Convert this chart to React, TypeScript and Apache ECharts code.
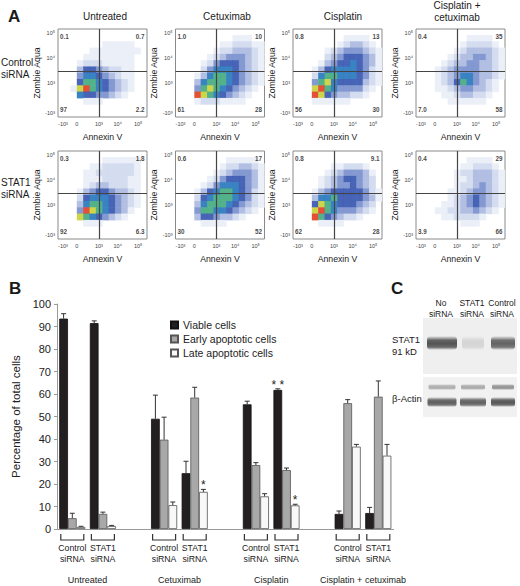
import React, { useEffect, useRef } from 'react';
import * as echarts from 'echarts';

const FONT = '"Liberation Sans", Arial, Helvetica, sans-serif';

// ---------- Panel A : flow cytometry ----------
const flowTreatments = ['Untreated', 'Cetuximab', 'Cisplatin', 'Cisplatin +\ncetuximab'];
const flowRowLabels = ['Control\nsiRNA', 'STAT1\nsiRNA'];
// quadrant percentages [top-left, top-right, bottom-left, bottom-right]
const quadControl = [
  ['0.1', '0.7', '97', '2.2'],
  ['1.0', '10', '61', '28'],
  ['0.8', '13', '56', '30'],
  ['0.4', '35', '7.0', '58'],
];
const quadStat1 = [
  ['0.3', '1.8', '92', '6.3'],
  ['0.6', '17', '30', '52'],
  ['0.8', '9.1', '62', '28'],
  ['0.4', '29', '3.9', '66'],
];
const xTickPos = [5.6, 21, 46, 67, 90];
const xTickText = ['-10³', '0', '10³', '10⁴', '10⁵'];
const yTickPos = [4, 39, 67, 96];
const yTickText = ['-10³', '10³', '10⁴', '10⁵'];
const gateX = 46;
const gateY = 52;

// density grids (14 x 14, top row first), level 0..9
const dUntreatedCtrl = [
  '00000000000000',
  '00000000000000',
  '00000001111100',
  '00000111111110',
  '00001111111100',
  '00012221111100',
  '00035543221100',
  '00046654321100',
  '00057765432100',
  '00189765432100',
  '00065544321000',
  '00001110000000',
  '00000000000000',
  '00000000000000',
];
const dCetuximabCtrl = [
  '00000000000000',
  '00000000011100',
  '00000001122211',
  '00000012233321',
  '00000123444321',
  '00001245554321',
  '00002466654321',
  '00013677654321',
  '00036777654321',
  '00047876543210',
  '00098765432100',
  '00012221111000',
  '00000000000000',
  '00000000000000',
];
const dCisplatinCtrl = [
  '00000000000000',
  '00000000111100',
  '00000001233210',
  '00000123444321',
  '00000234555431',
  '00001345565431',
  '00013566665421',
  '00026776665421',
  '00047865555321',
  '00089764444210',
  '00098543322100',
  '00011111100000',
  '00000000000000',
  '00000000000000',
];
const dComboCtrl = [
  '00000000000000',
  '00000000111100',
  '00000001222210',
  '00000012333321',
  '00000123344321',
  '00001233443321',
  '00012344443321',
  '00012346643321',
  '00012357643210',
  '00011234433210',
  '00001123322100',
  '00000111111000',
  '00000000000000',
  '00000000000000',
];
const dUntreatedStat1 = [
  '00000000000000',
  '00000001111110',
  '00000112222210',
  '00001122222210',
  '00001112222110',
  '00001233222110',
  '00013455433210',
  '00025666543210',
  '00036776543210',
  '00049876543100',
  '00087654321000',
  '00001110000000',
  '00000000000000',
  '00000000000000',
];
const dCetuximabStat1 = [
  '00000000000000',
  '00000000111110',
  '00000001223321',
  '00000012344431',
  '00000124555431',
  '00001246665431',
  '00013567765421',
  '00025677765421',
  '00036777654321',
  '00047766543210',
  '00035543321000',
  '00001111000000',
  '00000000000000',
  '00000000000000',
];
const dCisplatinStat1 = [
  '00000000000000',
  '00000000000000',
  '00000011222100',
  '00000123444310',
  '00001234554320',
  '00001234454320',
  '00013455555421',
  '00036675555431',
  '00058765554320',
  '00089764443210',
  '00097543221000',
  '00001111000000',
  '00000000000000',
  '00000000000000',
];
const dComboStat1 = [
  '00000000000000',
  '00000000111100',
  '00000001122210',
  '00000012233321',
  '00000011233321',
  '00000012234321',
  '00000112344321',
  '00000123454321',
  '00001123454321',
  '00011223343210',
  '00001122221000',
  '00000001110000',
  '00000000000000',
  '00000000000000',
];
const densityPalette = ['#eaeef8', '#d2daef', '#aebce2', '#7d93cf', '#3e5cb2', '#2f7cc0', '#4aae84', '#cbd340', '#e2462c'];

// ---------- Panel B : bar chart ----------
const treatments = ['Untreated', 'Cetuximab', 'Cisplatin', 'Cisplatin + cetuximab'];
const sirnaLabels = ['Control\nsiRNA', 'STAT1\nsiRNA'];
const seriesNames = ['Viable cells', 'Early apoptotic cells', 'Late apoptotic cells'];
const viable = [93.5, 91.5, 49, 24.8, 55.4, 61.8, 6.7, 7.1];
const viableErr = [2.2, 1.0, 10.5, 5.3, 1.4, 0.5, 1.3, 2.5];
const early = [4.8, 6.7, 39.7, 58.4, 28.4, 26.2, 55.9, 58.8];
const earlyErr = [2.2, 0.8, 10, 4.6, 1.1, 0.9, 1.6, 7];
const late = [0.9, 1.3, 10.6, 16.5, 14.5, 10.5, 36.6, 32.6];
const lateErr = [0.3, 0.3, 1.4, 1.1, 1.2, 0.5, 1.0, 5];
const sigMarks = [
  { group: 3, series: 2, text: '*' },
  { group: 5, series: 0, text: '* *' },
  { group: 5, series: 2, text: '*' },
];

// ---------- Panel C : western blot ----------
const blotLanes = ['No\nsiRNA', 'STAT1\nsiRNA', 'Control\nsiRNA'];
const stat1Band = [0.8, 0.12, 0.72];
const actinUpperBand = [0.32, 0.34, 0.46];
const actinBand = [0.74, 0.72, 0.78];

function gray(intensity: number, alpha = 1) {
  const g = Math.round(236 - intensity * 190);
  return `rgba(${g},${g},${g},${alpha})`;
}

function bandFill(intensity: number) {
  return {
    type: 'linear', x: 0, y: 0, x2: 0, y2: 1,
    colorStops: [
      { offset: 0, color: gray(intensity, 0) },
      { offset: 0.3, color: gray(intensity, 0.9) },
      { offset: 0.55, color: gray(intensity, 1) },
      { offset: 0.8, color: gray(intensity, 0.85) },
      { offset: 1, color: gray(intensity, 0) },
    ],
  };
}

function buildOption() {
  const grid: any[] = [];
  const xAxis: any[] = [];
  const yAxis: any[] = [];
  const series: any[] = [];
  const heatIdx: number[] = [];
  const graphic: any[] = [];

  const flowLeft = [58, 175.5, 293, 416];
  const flowTop = [29, 151];
  const flowW = 89;
  const flowH = 88;
  const densities = [
    [dUntreatedCtrl, dCetuximabCtrl, dCisplatinCtrl, dComboCtrl],
    [dUntreatedStat1, dCetuximabStat1, dCisplatinStat1, dComboStat1],
  ];
  const quads = [quadControl, quadStat1];
  const cells = Array.from({ length: 14 }, (_, i) => String(i));

  for (let r = 0; r < 2; r++) {
    for (let c = 0; c < 4; c++) {
      const gi = grid.length;
      grid.push({
        left: flowLeft[c], top: flowTop[r], width: flowW, height: flowH,
        show: true, borderColor: '#8a8a8a', borderWidth: 1, backgroundColor: 'transparent',
        outerBoundsMode: 'none', containLabel: false,
      });
      const vx = xAxis.length;
      xAxis.push({
        type: 'value', gridIndex: gi, min: 0, max: 100, position: 'bottom',
        name: 'Annexin V', nameLocation: 'middle', nameGap: 15,
        nameTextStyle: { fontSize: 8.7, color: '#222', fontFamily: FONT },
        axisLine: { show: false }, axisTick: { show: false }, splitLine: { show: false },
        axisLabel: {
          customValues: xTickPos,
          formatter: (v: number) => { const i = xTickPos.indexOf(v); return i >= 0 ? xTickText[i] : ''; },
          fontSize: 5.5, color: '#444', margin: 4, fontFamily: FONT,
        },
      });
      const cx = xAxis.length;
      xAxis.push({ type: 'category', gridIndex: gi, data: cells, show: false });
      const vy = yAxis.length;
      yAxis.push({
        type: 'value', gridIndex: gi, min: 0, max: 100, position: 'left',
        name: 'Zombie Aqua', nameLocation: 'middle', nameGap: 11,
        nameTextStyle: { fontSize: 8.7, color: '#222', fontFamily: FONT },
        axisLine: { show: false }, axisTick: { show: false }, splitLine: { show: false },
        axisLabel: {
          customValues: yTickPos,
          formatter: (v: number) => { const i = yTickPos.indexOf(v); return i >= 0 ? yTickText[i] : ''; },
          fontSize: 5.5, color: '#444', margin: 3, fontFamily: FONT,
        },
      });
      const cy = yAxis.length;
      yAxis.push({ type: 'category', gridIndex: gi, data: cells, show: false });

      const rows = densities[r][c];
      const heat: number[][] = [];
      rows.forEach((row, ri) => {
        for (let ci = 0; ci < 14; ci++) {
          const v = parseInt(row[ci] || '0', 10);
          if (v > 0) heat.push([ci, 13 - ri, v]);
        }
      });
      heatIdx.push(series.length);
      series.push({
        type: 'heatmap', xAxisIndex: cx, yAxisIndex: cy, data: heat, silent: true,
        itemStyle: { borderWidth: 0, opacity: 0.95 }, z: 2,
      });

      const q = quads[r][c];
      series.push({
        type: 'scatter', xAxisIndex: vx, yAxisIndex: vy, symbolSize: 0, silent: true, z: 5,
        data: [
          { name: q[0], value: [2.3, 92], label: { align: 'left' } },
          { name: q[1], value: [97.3, 92], label: { align: 'right' } },
          { name: q[2], value: [2.3, 9], label: { align: 'left' } },
          { name: q[3], value: [97.3, 9], label: { align: 'right' } },
        ],
        label: {
          show: true, position: 'inside', formatter: '{b}', verticalAlign: 'middle',
          fontSize: 6.3, fontWeight: 'bold', color: '#111', fontFamily: FONT,
        },
        markLine: {
          silent: true, symbol: 'none', label: { show: false },
          lineStyle: { color: '#444', width: 1.2, type: 'solid' },
          data: [{ xAxis: gateX }, { yAxis: gateY }],
        },
      });
    }
  }

  // ---------- bar chart ----------
  const catOf = (g: number) => g + Math.floor(g / 2);
  const nCats = 11;
  const catIds = Array.from({ length: nCats }, (_, i) => 'c' + i);
  const catText = catIds.map((_, i) => (i % 3 === 2 ? '' : sirnaLabels[i % 3]));
  const barGrid = grid.length;
  grid.push({ left: 57, top: 304, width: 336.6, height: 225, outerBoundsMode: 'none', containLabel: false });
  const bx = xAxis.length;
  xAxis.push({
    type: 'category', gridIndex: barGrid, data: catIds,
    axisLine: { show: true, lineStyle: { color: '#9a9a9a', width: 1 } },
    axisTick: { show: false },
    axisLabel: {
      interval: 0, formatter: (_v: string, i: number) => catText[i],
      fontSize: 8.7, lineHeight: 10.5, margin: 14, color: '#222', fontFamily: FONT,
    },
  });
  const by = yAxis.length;
  yAxis.push({
    type: 'value', gridIndex: barGrid, min: 0, max: 100, interval: 10,
    name: 'Percentage of total cells', nameLocation: 'middle', nameGap: 32,
    nameTextStyle: { fontSize: 11.5, color: '#222', fontFamily: FONT },
    axisLine: { show: true, lineStyle: { color: '#9a9a9a', width: 1 } },
    axisTick: { show: true, length: 3, lineStyle: { color: '#9a9a9a' } },
    splitLine: { show: false },
    axisLabel: { fontSize: 11, color: '#222', margin: 6, fontFamily: FONT },
  });

  const expand = (vals: number[]) => {
    const out: any[] = Array(nCats).fill('-');
    vals.forEach((v, g) => { out[catOf(g)] = v; });
    return out;
  };
  const barVals = [viable, early, late];
  const barErrs = [viableErr, earlyErr, lateErr];
  const barStyles = [
    { color: '#231f20', borderColor: '#111', borderWidth: 0.8 },
    { color: '#a8a8a8', borderColor: '#555', borderWidth: 0.8 },
    { color: '#f8f8f8', borderColor: '#555', borderWidth: 0.8 },
  ];
  const barW = 8.7;
  barVals.forEach((vals, k) => {
    series.push({
      type: 'bar', name: seriesNames[k], xAxisIndex: bx, yAxisIndex: by,
      data: expand(vals), barWidth: barW, barGap: '0%', itemStyle: barStyles[k], silent: true,
    });
  });

  const errData: number[][] = [];
  barVals.forEach((vals, k) => vals.forEach((v, g) => errData.push([catOf(g), v, v + barErrs[k][g], k])));
  series.push({
    type: 'custom', xAxisIndex: bx, yAxisIndex: by, data: errData, silent: true, z: 4,
    encode: { x: 0, y: [1, 2] },
    renderItem: (_p: any, api: any) => {
      const cat = api.value(0), v = api.value(1), e = api.value(2), k = api.value(3);
      const p0 = api.coord([cat, v]);
      const p1 = api.coord([cat, e]);
      const x = p0[0] + (k - 1) * barW;
      return {
        type: 'group',
        children: [
          { type: 'line', shape: { x1: x, y1: p0[1], x2: x, y2: p1[1] }, style: { stroke: '#333', lineWidth: 1 } },
          { type: 'line', shape: { x1: x - 2.5, y1: p1[1], x2: x + 2.5, y2: p1[1] }, style: { stroke: '#333', lineWidth: 1 } },
        ],
      };
    },
  });

  const sigData = sigMarks.map((m) => {
    const vals = barVals[m.series];
    return [catOf(m.group), vals[m.group] + barErrs[m.series][m.group], m.series];
  });
  series.push({
    type: 'custom', xAxisIndex: bx, yAxisIndex: by, data: sigData, silent: true, z: 5,
    encode: { x: 0, y: 1 },
    renderItem: (p: any, api: any) => {
      const pt = api.coord([api.value(0), api.value(1)]);
      const x = pt[0] + (api.value(2) - 1) * barW;
      return {
        type: 'text', x, y: pt[1] + 2,
        style: {
          text: sigMarks[p.dataIndex].text, fontSize: 12, fontFamily: FONT, fill: '#222',
          align: 'center', verticalAlign: 'bottom', textAlign: 'center', textVerticalAlign: 'bottom',
        },
      };
    },
  });

  const bracketData = Array.from({ length: 8 }, (_, g) => [catOf(g), 0]);
  series.push({
    type: 'custom', xAxisIndex: bx, yAxisIndex: by, data: bracketData, silent: true, clip: false,
    encode: { x: 0, y: 1 },
    renderItem: (_p: any, api: any) => {
      const pt = api.coord([api.value(0), 0]);
      const x = pt[0], y = pt[1];
      return {
        type: 'polyline',
        shape: { points: [[x - 11.5, y + 5], [x - 11.5, y + 11], [x + 11.5, y + 11], [x + 11.5, y + 5]] },
        style: { stroke: '#333', lineWidth: 1.2, fill: 'none' },
      };
    },
  });

  const treatData = treatments.map((_, i) => [catOf(2 * i), catOf(2 * i + 1)]);
  series.push({
    type: 'custom', xAxisIndex: bx, yAxisIndex: by, data: treatData, silent: true, clip: false,
    encode: { x: [0, 1] },
    renderItem: (p: any, api: any) => {
      const a = api.coord([api.value(0), 0]);
      const b = api.coord([api.value(1), 0]);
      return {
        type: 'text', x: (a[0] + b[0]) / 2, y: a[1] + 51,
        style: {
          text: treatments[p.dataIndex], fontSize: 9, fontFamily: FONT, fill: '#222',
          align: 'center', verticalAlign: 'middle', textAlign: 'center', textVerticalAlign: 'middle',
        },
      };
    },
  });

  // ---------- graphic texts ----------
  const txt = (text: string, x: number, y: number, size: number, opts: any = {}) => ({
    type: 'text', x, y, silent: true,
    style: {
      text, fontSize: size, fontFamily: FONT, fill: '#1a1a1a',
      align: opts.align || 'left', verticalAlign: 'middle',
      textAlign: opts.align || 'left', textVerticalAlign: 'middle',
      fontWeight: opts.bold ? 'bold' : 'normal', lineHeight: opts.lh || size * 1.15,
    },
  });
  graphic.push(txt('A', 8, 16, 17, { bold: true }));
  graphic.push(txt('B', 9, 288, 17, { bold: true }));
  graphic.push(txt('C', 391, 288, 17, { bold: true }));
  const titleX = [105, 227, 343, 457];
  flowTreatments.forEach((t, i) => {
    graphic.push(txt(t, titleX[i], t.includes('\n') ? 11 : 16, 10, { align: 'center', lh: 12 }));
  });
  graphic.push(txt(flowRowLabels[0], 1, 68, 10, { lh: 12 }));
  graphic.push(txt(flowRowLabels[1], 1, 188, 10, { lh: 12 }));

  // blot
  const laneX = [442, 473, 503];
  graphic.push({ type: 'rect', silent: true, shape: { x: 423, y: 318, width: 94, height: 56 }, style: { fill: '#efefef' } });
  graphic.push({ type: 'rect', silent: true, shape: { x: 423, y: 377, width: 94, height: 40 }, style: { fill: '#f1f1f1' } });
  const stat1W = [30, 22, 24];
  const actW = [29, 26, 24];
  laneX.forEach((x, i) => {
    graphic.push({ type: 'rect', silent: true, shape: { x: x - stat1W[i] / 2, y: 336, width: stat1W[i], height: 14, r: 4 }, style: { fill: bandFill(stat1Band[i]) } });
    graphic.push({ type: 'rect', silent: true, shape: { x: x - actW[i] / 2 + 1, y: 384, width: actW[i] - 2, height: 6, r: 2 }, style: { fill: bandFill(actinUpperBand[i]) } });
    graphic.push({ type: 'rect', silent: true, shape: { x: x - actW[i] / 2, y: 397, width: actW[i], height: 10, r: 3 }, style: { fill: bandFill(actinBand[i]) } });
    graphic.push(txt(blotLanes[i], x - 1, 308.5, 8.5, { align: 'center', lh: 10.5 }));
  });
  graphic.push(txt('STAT1\n91 kD', 392, 345.5, 9.5, { lh: 11.5 }));
  graphic.push(txt('β-Actin', 392, 398, 9.5));

  return {
    animation: false,
    backgroundColor: '#ffffff',
    textStyle: { fontFamily: FONT },
    grid, xAxis, yAxis, series,
    legend: {
      data: seriesNames, orient: 'vertical', left: 165, top: 314.5,
      itemWidth: 7, itemHeight: 7, itemGap: 3, icon: 'rect', selectedMode: false,
      textStyle: { fontSize: 10.5, color: '#222', fontFamily: FONT },
    },
    visualMap: {
      type: 'piecewise', show: false, seriesIndex: heatIdx, dimension: 2,
      pieces: densityPalette.map((color, i) => ({ value: i + 1, color })),
    },
    graphic: { elements: graphic },
  };
}

export default function App() {
  const ref = useRef<HTMLDivElement>(null);
  useEffect(() => {
    if (!ref.current) return;
    const chart = echarts.init(ref.current, null, { renderer: 'svg' });
    chart.setOption(buildOption() as any);
    return () => chart.dispose();
  }, []);
  return <div ref={ref} style={{ position: 'fixed', left: 0, top: 0, width: 520, height: 586 }} />;
}
